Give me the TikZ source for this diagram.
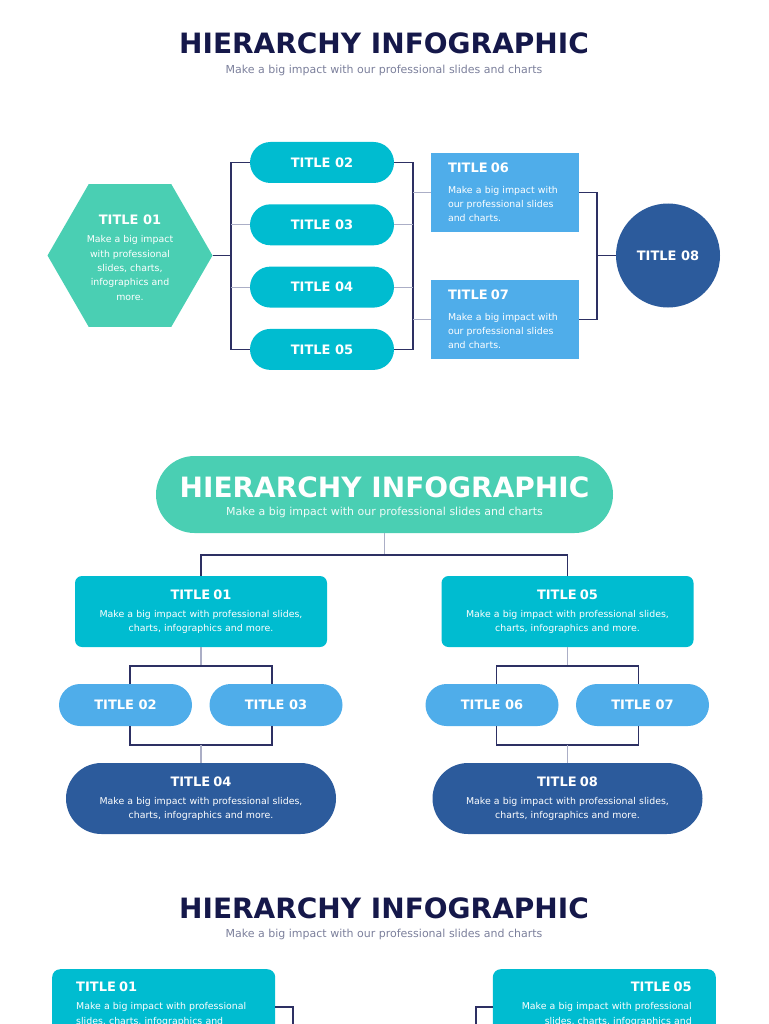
\documentclass[tikz,border=0pt]{standalone}
\usepackage{fontspec}
\setmainfont{DejaVu Sans}
\usepackage{tikz}
\usetikzlibrary{positioning,shapes.geometric,calc}

\definecolor{navy}{HTML}{15184A}
\definecolor{subgray}{HTML}{7B7F9B}
\definecolor{mintfill}{HTML}{4ACFB3}
\definecolor{cyanfill}{HTML}{00BCD0}
\definecolor{skyfill}{HTML}{4FADEA}
\definecolor{bluefill}{HTML}{2C5B9C}
\definecolor{linkdark}{HTML}{2D3063}
\definecolor{linklight}{HTML}{ABAEC6}

\newcommand\boxhead[1]{{\bfseries\fontsize{13}{14}\selectfont #1}}

\begin{document}
\begin{tikzpicture}[x=1pt,y=-1pt,
  ttl/.style={anchor=base,font=\bfseries\fontsize{28}{30}\selectfont,text=navy},
  subttl/.style={anchor=base,font=\fontsize{11}{13}\selectfont,text=subgray},
  txt/.style={font=\fontsize{9.4}{14.3}\selectfont,text=white},
  pill/.style={fill=cyanfill,rounded corners=20.5pt,minimum width=144pt,minimum height=41pt,inner sep=0pt,text=white,font=\bfseries\fontsize{13}{14}\selectfont},
  spill/.style={pill,fill=skyfill,minimum width=133pt,minimum height=42pt,rounded corners=21pt},
  hexa/.style={regular polygon,regular polygon sides=6,minimum size=165pt,inner sep=0pt,fill=mintfill},
  card/.style={txt,fill=skyfill,minimum width=148pt,minimum height=79pt,text width=114pt,inner xsep=17pt,inner ysep=0pt,align=left},
  rcard/.style={txt,fill=cyanfill,rounded corners=7pt,minimum width=252pt,minimum height=71pt,text width=240pt,inner xsep=6pt,inner ysep=0pt,align=center,font=\fontsize{9.4}{14.6}\selectfont},
  bpill/.style={rcard,fill=bluefill,rounded corners=35.5pt,minimum width=270pt,text width=250pt,inner xsep=10pt},
  headpill/.style={fill=mintfill,rounded corners=38.5pt,minimum width=457pt,minimum height=77pt,align=center,text=white,font=\fontsize{11}{13}\selectfont},
  scard/.style={txt,fill=cyanfill,rounded corners=8pt,text width=175pt,inner xsep=24pt,inner ysep=13pt},
  round/.style={circle,fill=bluefill,minimum size=104pt,inner sep=0pt,text=white,font=\bfseries\fontsize{13}{14}\selectfont},
  link/.style={draw=linkdark,line width=1.2pt},
  stub/.style={draw=linklight,line width=1.2pt}]
\useasboundingbox (0,0) rectangle (768,1024);
\clip (0,0) rectangle (768,1024);

% --- first layout: left to right
\node[ttl] (ttla) at (384,54) {HIERARCHY INFOGRAPHIC};
\node[subttl] (suba) at (384,74) {Make a big impact with our professional slides and charts};
\node[hexa] (hex) at (130,255.5) {};
\node[txt,align=center] (hextxt) at ([yshift=-2pt]hex.center) {\boxhead{TITLE 01}\\[4pt] Make a big impact\\with professional\\slides, charts,\\infographics and\\more.};
\foreach \i/\y in {2/162.5,3/224.8,4/287.1,5/349.4} \node[pill] (p\i) at (322,\y) {TITLE 0\i};
\node[card] (t6) at (505,192.5) {\boxhead{TITLE 06}\\[5.8pt] Make a big impact with\\our professional slides\\and charts.};
\node[card] (t7) at (505,319.5) {\boxhead{TITLE 07}\\[5.8pt] Make a big impact with\\our professional slides\\and charts.};
\node[round] (c8) at (668,255.5) {TITLE 08};
\coordinate (lb) at (231,255.5);
\coordinate (rb) at (413,255.5);
\coordinate (rc) at (597,255.5);
\draw[link] (hex.east) -- (lb);
\draw[link] (p2.west) -| (lb) |- (p5.west);
\draw[link] (p2.east) -| (rb) |- (p5.east);
\foreach \i in {3,4} {\draw[stub] (p\i.west) -- (p\i.west -| lb); \draw[stub] (p\i.east) -- (p\i.east -| rb);}
\foreach \t in {t6,t7} \draw[stub] (\t.west -| rb) -- (\t.west);
\draw[link] (t6.east) -| (rc) |- (t7.east);
\draw[link] (rc) -- (c8.west);

% --- second layout: top down
\node[headpill] (head) at (384.5,494.5) {{\bfseries\fontsize{28}{30}\selectfont\rule{0pt}{26.4pt}HIERARCHY INFOGRAPHIC}\\[5pt]\color{white!92!mintfill}Make a big impact with our professional slides and charts};
\coordinate (hub) at (384.5,555);
\foreach \n/\x/\ta/\tb/\tc/\td in {l/201/01/02/03/04,r/567.5/05/06/07/08}{
  \node[rcard] (top\n) at (\x,611.5) {\boxhead{TITLE \ta}\\[3.5pt] Make a big impact with professional slides,\\charts, infographics and more.};
  \node[spill] (sa\n) at (\x-75.5,705) {TITLE \tb};
  \node[spill] (sb\n) at (\x+75,705) {TITLE \tc};
  \node[bpill] (bot\n) at (\x,798.5) {\boxhead{TITLE \td}\\[3.5pt] Make a big impact with professional slides,\\charts, infographics and more.};
  \coordinate (ja\n) at (\x,666);
  \coordinate (jb\n) at (\x,745);
  \draw[stub] (top\n.south) -- (ja\n);
  \draw[link] ([xshift=4.5pt]sa\n.north) |- (ja\n) -| ([xshift=-4pt]sb\n.north);
  \draw[link] ([xshift=4.5pt]sa\n.south) |- (jb\n) -| ([xshift=-4pt]sb\n.south);
  \draw[stub] (jb\n) -- (bot\n.north);
}
\draw[stub] (head.south) -- (hub);
\draw[link] (topl.north) |- (hub) -| (topr.north);

% --- third layout: side cards
\node[ttl] (ttlc) at (384,918) {HIERARCHY INFOGRAPHIC};
\node[subttl] (subc) at (384,937) {Make a big impact with our professional slides and charts};
\node[scard,anchor=north west,align=left] (e1) at (52,969) {\boxhead{TITLE 01}\\[3.7pt] Make a big impact with professional\\slides, charts, infographics and};
\node[scard,anchor=north east,align=right] (e5) at (716,969) {\boxhead{TITLE 05}\\[3.7pt] Make a big impact with professional\\slides, charts, infographics and};
\coordinate (g1) at (293,1007);
\coordinate (g1end) at (293,1040);
\coordinate (g5) at (476,1007);
\coordinate (g5end) at (476,1040);
\draw[link] (g1 -| e1.east) -- (g1) -- (g1end);
\draw[link] (g5 -| e5.west) -- (g5) -- (g5end);
\end{tikzpicture}
\end{document}
